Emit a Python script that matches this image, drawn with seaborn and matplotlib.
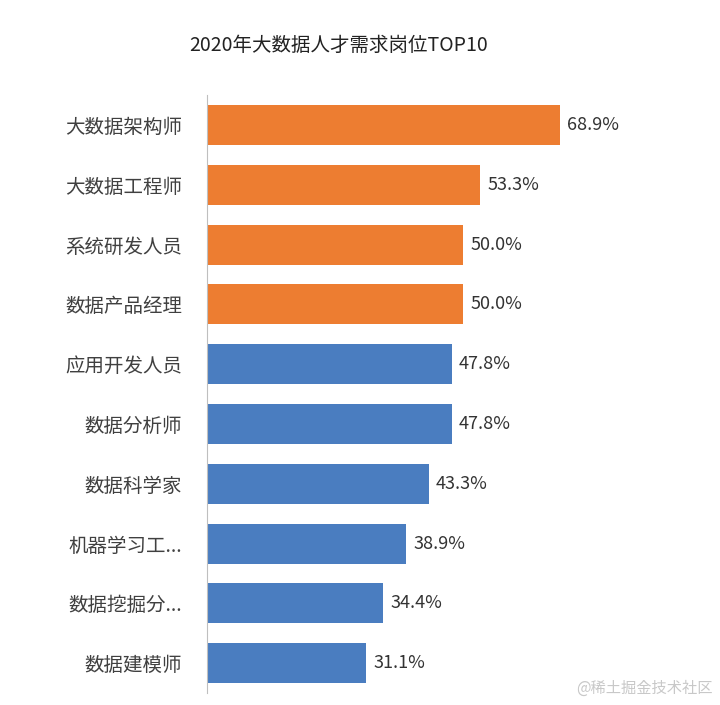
import matplotlib.pyplot as plt
import seaborn as sns
import pandas as pd

plt.rcParams['font.family'] = ['Noto Sans CJK JP', 'Noto Sans CJK SC', 'DejaVu Sans']

jobs = ["大数据架构师", "大数据工程师", "系统研发人员", "数据产品经理", "应用开发人员",
        "数据分析师", "数据科学家", "机器学习工...", "数据挖掘分...", "数据建模师"]
shares = [68.9, 53.3, 50.0, 50.0, 47.8, 47.8, 43.3, 38.9, 34.4, 31.1]
groups = ["top"] * 4 + ["rest"] * 6

df = pd.DataFrame({"job": jobs, "share": shares, "group": groups})
palette = {"top": "#ED7D31", "rest": "#4A7DC0"}

fig = plt.figure(figsize=(7.2, 7.05), dpi=100)
ax = fig.add_axes([0.2875, 0.017, 0.64, 0.848])
sns.barplot(data=df, x="share", y="job", hue="group", palette=palette, saturation=1,
            dodge=False, width=0.67, legend=False, ax=ax)

for i, v in enumerate(shares):
    ax.text(v + 1.4, i, f"{v:.1f}%", va="center", ha="left", fontsize=13, color="#333333")

ax.set_xlim(0, 90)
ax.set_ylim(9.5, -0.5)
ax.set_xlabel("")
ax.set_ylabel("")
ax.set_xticks([])
for s in ["top", "right", "bottom"]:
    ax.spines[s].set_visible(False)
ax.spines["left"].set_color("#bfbfbf")
ax.tick_params(axis="y", length=0, labelsize=14, labelcolor="#404040", pad=18)

fig.text(0.47, 0.935, "2020年大数据人才需求岗位TOP10", ha="center", va="center",
         fontsize=14, color="#222222")
fig.text(0.99, 0.012, "@稀土掘金技术社区", ha="right", va="bottom", fontsize=11, color="#c8c8c8")

fig.savefig("out.png", dpi=100, facecolor="white")
